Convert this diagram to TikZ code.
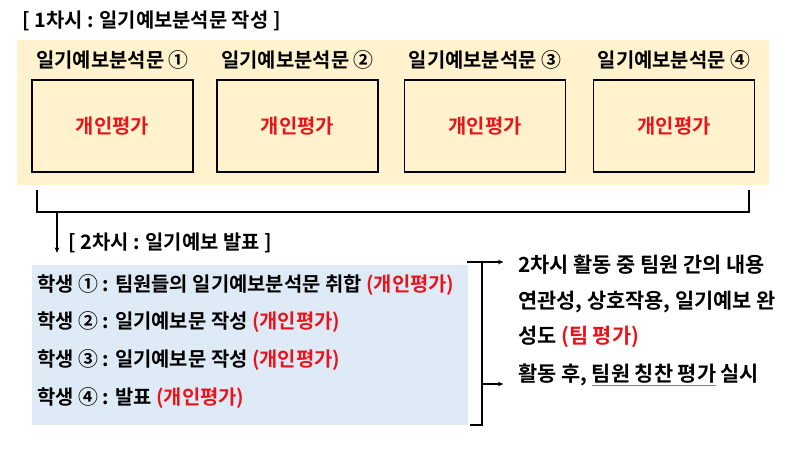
\documentclass[tikz,border=0pt]{standalone}
\usepackage{fontspec}
\setmainfont{Noto Sans CJK KR}[BoldFont={Noto Sans CJK KR Bold}]
\usetikzlibrary{arrows.meta}

\definecolor{bgyellow}{HTML}{FFF2CC}
\definecolor{bgblue}{HTML}{DEEBF7}
\definecolor{evalred}{HTML}{E8141B}

\tikzset{
    txt/.style={inner sep=0pt, font=\fontsize{14.9}{17}\selectfont\bfseries},
    side/.style={txt, font=\fontsize{15.6}{17}\selectfont\bfseries},
    paper/.style={draw, line width=0.9pt, minimum width=120.75pt, minimum height=69pt, inner sep=0pt},
    link/.style={line width=0.8pt},
    arr/.style={link, -{Stealth[length=4pt,width=3.5pt]}}
}

\newcommand{\evalmark}[1]{\textcolor{evalred}{#1}}

\begin{document}
\begin{tikzpicture}[x=0.75pt,y=-0.75pt]

    \useasboundingbox (0,0) rectangle (800,450);

    % 1차시
    \node[txt, anchor=west] (t1) at (22,21) {[ 1차시 : 일기예보분석문 작성 ]};
    \node[fill=bgyellow, minimum width=564pt, minimum height=108.75pt, inner sep=0pt] (bg) at (393,112.5) {};

    % 분석문 상자
    \foreach \i/\cx/\num in {1/112.5/①,2/297.5/②,3/485/③,4/674/④} {
        \node[paper, txt] (b\i) at (\cx,126) {\evalmark{개인평가}};
        \node[txt] (l\i) at (\cx,60) {일기예보분석문 \num};
    }

    % 묶음선
    \coordinate (ka) at (37,190);
    \coordinate (kb) at (749,190);
    \coordinate (kc) at (57,212);
    \draw[link] (ka) |- (kc) -| (kb);

    % 2차시
    \node[txt, anchor=west] (t2) at (68,243) {[ 2차시 : 일기예보 발표 ]};
    \node[fill=bgblue, minimum width=327pt, minimum height=120pt, inner sep=0pt] (pres) at (250,345) {};
    \draw[arr, shorten >=9pt] (kc) -- (kc |- pres.north);

    \node[txt, anchor=west] (s1) at (37,285) {학생 ① : 팀원들의 일기예보분석문 취합 \evalmark{(개인평가)}};
    \node[txt, anchor=west] (s2) at (37,322) {학생 ② : 일기예보문 작성 \evalmark{(개인평가)}};
    \node[txt, anchor=west] (s3) at (37,360) {학생 ③ : 일기예보문 작성 \evalmark{(개인평가)}};
    \node[txt, anchor=west] (s4) at (37,398) {학생 ④ : 발표 \evalmark{(개인평가)}};

    % 팀 평가
    \node[side, anchor=west] (r1) at (518,265) {2차시 활동 중 팀원 간의 내용};
    \node[side, anchor=west] (r2) at (518,302) {연관성, 상호작용, 일기예보 완};
    \node[side, anchor=west] (r3) at (518,337) {성도 \evalmark{(팀 평가)}};
    \node[side, anchor=west] (r4) at (518,375) {활동 후, \textcolor{gray}{\underline{\textcolor{black}{팀원 칭찬 평가}}} 실시};

    \coordinate (kd) at (482,262);
    \coordinate (ke) at (482,425);
    \coordinate (kf) at (482,384);
    \draw[link] (467,262) -- (kd) -- (ke) -- (470,425);
    \draw[arr, shorten >=11pt] (kd) -- (kd -| r1.west);
    \draw[arr, shorten >=11pt] (kf) -- (kf -| r4.west);

\end{tikzpicture}
\end{document}
